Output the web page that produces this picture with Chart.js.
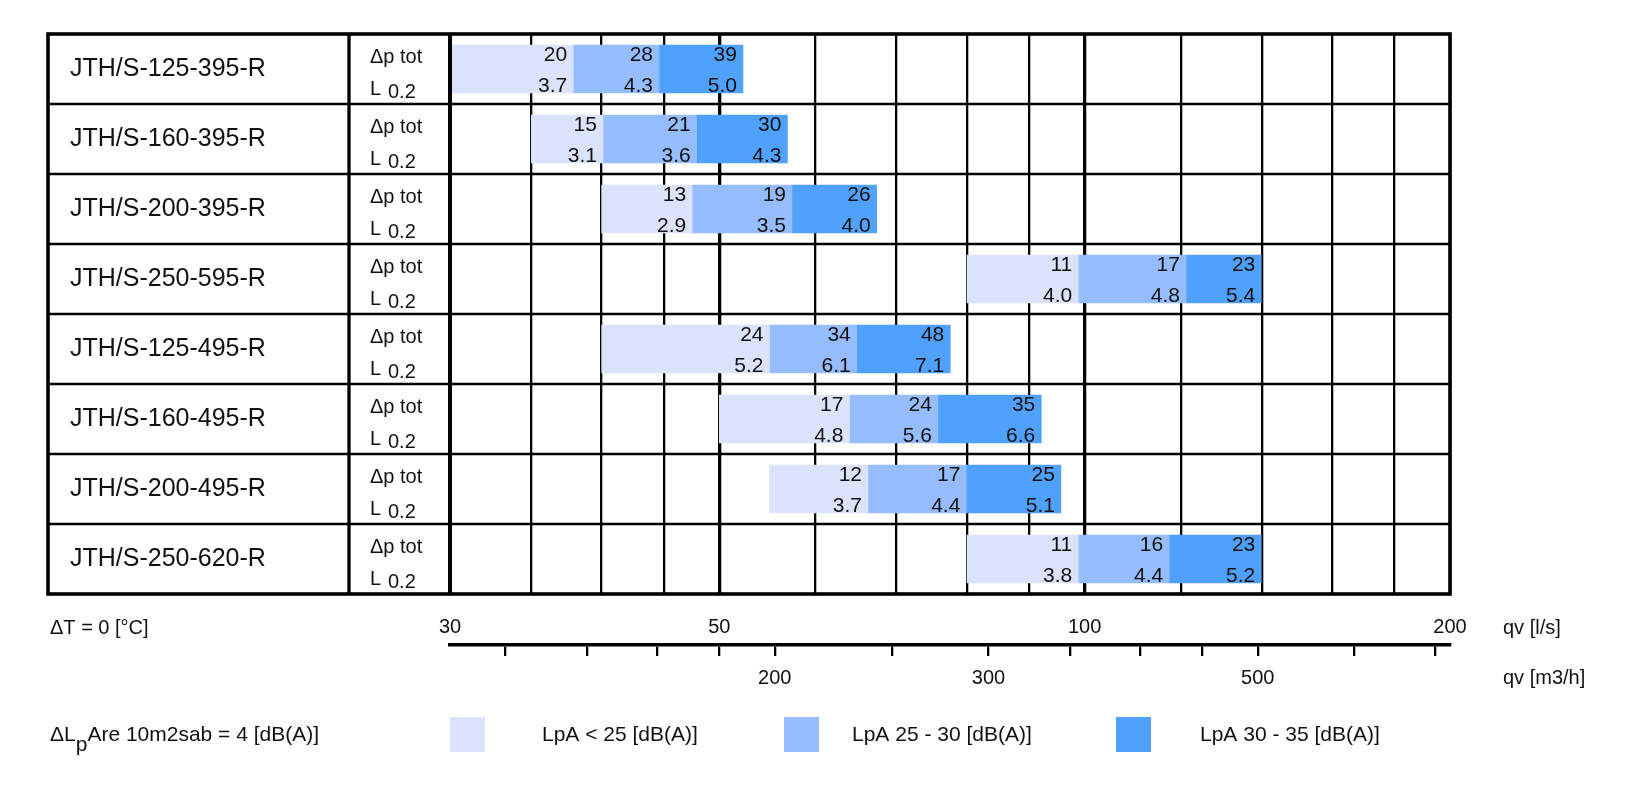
<!DOCTYPE html>
<html>
<head>
<meta charset="utf-8">
<script src="https://cdn.jsdelivr.net/npm/chart.js@4.4.0/dist/chart.umd.min.js"></script>
<style>
    body { margin: 0; background: #fff; }
    #contenedor { width: 1650px; height: 790px; }
</style>
</head>
<body>
<div id="contenedor"><canvas id="grafico" width="1650" height="790"></canvas></div>
<script>
// Modelos (filas de la tabla)
const modelos = ["JTH/S-125-395-R", "JTH/S-160-395-R", "JTH/S-200-395-R", "JTH/S-250-595-R",
                 "JTH/S-125-495-R", "JTH/S-160-495-R", "JTH/S-200-495-R", "JTH/S-250-620-R"];

// Caudal qv [l/s]: inicio y fin de cada tramo
const qvInicio = [30, 35, 40, 80, 40, 50, 55, 80];
const qvFin25  = [37.9, 40.1, 47.5, 98.8, 55.0, 64.0, 66.3, 98.8];
const qvFin30  = [44.6, 47.9, 57.4, 121.2, 64.9, 75.7, 79.9, 117.4];
const qvFin35  = [52.3, 56.9, 67.4, 139.8, 77.5, 92.1, 95.6, 139.8];

// Δp tot en el extremo de cada tramo
const dp25 = [20, 15, 13, 11, 24, 17, 12, 11];
const dp30 = [28, 21, 19, 17, 34, 24, 17, 16];
const dp35 = [39, 30, 26, 23, 48, 35, 25, 23];

// L 0.2 en el extremo de cada tramo
const l25 = [3.7, 3.1, 2.9, 4.0, 5.2, 4.8, 3.7, 3.8];
const l30 = [4.3, 3.6, 3.5, 4.8, 6.1, 5.6, 4.4, 4.4];
const l35 = [5.0, 4.3, 4.0, 5.4, 7.1, 6.6, 5.1, 5.2];

// Ejes
const lineasLs   = [30, 35, 40, 45, 50, 60, 70, 80, 90, 100, 120, 140, 160, 180, 200];
const etiquetasLs = [30, 50, 100, 200];
const gruesasLs  = [50, 100];
const marcasM3h  = [120, 140, 160, 180, 200, 250, 300, 350, 400, 450, 500, 600, 700];
const etiquetasM3h = [200, 300, 500];

const leyendas = ["LpA < 25 [dB(A)]", "LpA 25 - 30 [dB(A)]", "LpA 30 - 35 [dB(A)]"];
const colores  = ["rgb(219, 227, 251)", "rgb(149, 188, 252)", "rgb(80, 160, 253)"];

const FUENTE = '"Liberation Sans", Arial, sans-serif';
const NEGRO = "#000";
const TEXTO = "#111";

function tramos(ini, fin){
    return modelos.map((m, i) => [ini[i], fin[i]]);
}

//Plugin: tabla de la izquierda, bordes, textos de barras y leyenda
const pluginTabla = {
    id: "tabla",
    afterDatasetsDraw(chart){
        const ctx = chart.ctx;
        const valores = [[dp25, l25], [dp30, l30], [dp35, l35]];
        ctx.save();
        ctx.fillStyle = TEXTO;
        ctx.font = "21px " + FUENTE;
        ctx.textAlign = "right";
        ctx.textBaseline = "middle";
        chart.data.datasets.forEach((ds, d) => {
            chart.getDatasetMeta(d).data.forEach((barra, i) => {
                ctx.fillText(String(valores[d][0][i]), barra.x - 6, barra.y - 14);
                ctx.fillText(valores[d][1][i].toFixed(1), barra.x - 6, barra.y + 17);
            });
        });
        ctx.restore();
    },
    afterDraw(chart){
        const ctx = chart.ctx;
        const area = chart.chartArea;
        const y = chart.scales.y;
        const izq = 48, div1 = 349;

        ctx.save();
        ctx.strokeStyle = NEGRO;

        //Lineas entre filas
        ctx.lineWidth = 2.7;
        for(let i = 1; i < modelos.length; i++){
            const yy = (y.getPixelForValue(i - 1) + y.getPixelForValue(i)) / 2;
            ctx.beginPath();
            ctx.moveTo(izq, yy);
            ctx.lineTo(area.right, yy);
            ctx.stroke();
        }

        //Divisiones verticales
        ctx.lineWidth = 3.3;
        ctx.beginPath();
        ctx.moveTo(div1, area.top);
        ctx.lineTo(div1, area.bottom);
        ctx.stroke();
        ctx.lineWidth = 4;
        ctx.beginPath();
        ctx.moveTo(area.left, area.top);
        ctx.lineTo(area.left, area.bottom);
        ctx.stroke();

        //Borde exterior
        ctx.lineWidth = 3.6;
        ctx.strokeRect(izq, area.top, area.right - izq, area.bottom - area.top);

        //Textos de la tabla
        ctx.fillStyle = TEXTO;
        ctx.textBaseline = "middle";
        ctx.textAlign = "left";
        modelos.forEach((m, i) => {
            const yc = y.getPixelForValue(i);
            ctx.font = "25px " + FUENTE;
            ctx.fillText(m, 70, yc);
            ctx.font = "20px " + FUENTE;
            ctx.fillText("Δp tot", 370, yc - 12);
            ctx.fillText("L", 370, yc + 20);
            ctx.fillText("0.2", 388, yc + 23);
        });

        //Textos de ejes
        ctx.font = "20px " + FUENTE;
        ctx.fillText("ΔT = 0 [°C]", 50, 628);
        ctx.fillText("qv [l/s]", 1503, 628);
        ctx.fillText("qv [m3/h]", 1503, 678);

        //Leyenda
        ctx.font = "21px " + FUENTE;
        const yLeyenda = 717, lado = 35;
        ctx.fillText("ΔL", 50, yLeyenda + 18);
        let x = 50 + ctx.measureText("ΔL").width;
        ctx.fillText("p", x, yLeyenda + 28);
        x += ctx.measureText("p").width;
        ctx.fillText("Are 10m2sab = 4 [dB(A)]", x, yLeyenda + 18);

        const xCaja  = [450, 784, 1116];
        const xTexto = [542, 852, 1200];
        chart.data.datasets.forEach((ds, d) => {
            ctx.fillStyle = ds.backgroundColor;
            ctx.fillRect(xCaja[d], yLeyenda, lado, lado);
            ctx.fillStyle = TEXTO;
            ctx.fillText(ds.label, xTexto[d], yLeyenda + 18);
        });
        ctx.restore();
    }
};

const canvas = document.getElementById("grafico").getContext("2d");
const grafico = new Chart(canvas, {
    type: "bar",
    data: {
        labels: modelos,
        datasets: [
            { label: leyendas[0], data: tramos(qvInicio, qvFin25), backgroundColor: colores[0] },
            { label: leyendas[1], data: tramos(qvFin25, qvFin30), backgroundColor: colores[1] },
            { label: leyendas[2], data: tramos(qvFin30, qvFin35), backgroundColor: colores[2] }
        ]
    },
    options: {
        indexAxis: "y",
        responsive: false,
        animation: false,
        datasets: { bar: { grouped: false, barThickness: 48, borderWidth: 0 } },
        layout: { padding: { left: 450, right: 200, top: 34, bottom: 85 } },
        plugins: { legend: { display: false }, tooltip: { enabled: false } },
        scales: {
            y: { display: false },
            x: {
                type: "logarithmic",
                position: "bottom",
                min: 30,
                max: 200,
                afterBuildTicks: (escala) => { escala.ticks = lineasLs.map(v => ({ value: v })); },
                afterFit: (escala) => { escala.height = 51; },
                border: { display: false },
                grid: {
                    drawTicks: false,
                    color: NEGRO,
                    lineWidth: (c) => gruesasLs.includes(c.tick && c.tick.value) ? 3.3 : 2.3
                },
                ticks: {
                    autoSkip: false,
                    maxRotation: 0,
                    padding: 21,
                    color: TEXTO,
                    font: { size: 20, family: FUENTE },
                    callback: (v) => etiquetasLs.includes(v) ? String(v) : ""
                }
            },
            x2: {
                type: "logarithmic",
                position: "bottom",
                min: 108,
                max: 720,
                afterBuildTicks: (escala) => { escala.ticks = marcasM3h.map(v => ({ value: v })); },
                afterFit: (escala) => { escala.height = 60; },
                border: { display: true, color: NEGRO, width: 3.6 },
                grid: {
                    drawOnChartArea: false,
                    drawTicks: true,
                    tickLength: 11,
                    color: NEGRO,
                    lineWidth: 2.3
                },
                ticks: {
                    autoSkip: false,
                    maxRotation: 0,
                    padding: 10,
                    color: TEXTO,
                    font: { size: 20, family: FUENTE },
                    callback: (v) => etiquetasM3h.includes(v) ? String(v) : ""
                }
            }
        }
    },
    plugins: [pluginTabla]
});
</script>
</body>
</html>
